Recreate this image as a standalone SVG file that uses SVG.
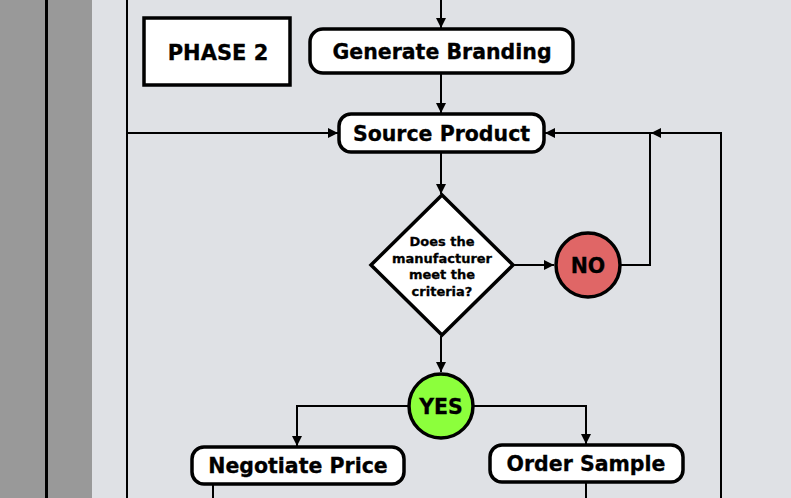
<svg xmlns="http://www.w3.org/2000/svg" width="791" height="498" viewBox="0 0 791 498">
<defs>
<marker id="arr" viewBox="0 0 10 10" refX="10" refY="5" markerWidth="10" markerHeight="10" markerUnits="userSpaceOnUse" orient="auto">
<path d="M0,0 L10,5 L0,10 z" fill="#000"/>
</marker>
<style>
.box{fill:#fff;stroke:#000;stroke-width:3.5}
.t{font-family:"DejaVu Sans",Verdana,sans-serif;font-weight:bold;fill:#000;text-anchor:middle;stroke:#000;stroke-width:0.3}
.big{font-size:20.5px}
.small{font-size:13px}
.c{fill:none;stroke:#000;stroke-width:2}
</style>
</defs>
<rect x="0" y="0" width="791" height="498" fill="#dfe1e5"/>
<rect x="0" y="0" width="92" height="498" fill="#999999"/>
<rect x="45" y="0" width="3" height="498" fill="#000"/>
<g id="connectors">
<line class="c" x1="127" y1="0" x2="127" y2="498"/>
<line class="c" x1="441" y1="0" x2="441" y2="28" marker-end="url(#arr)"/>
<line class="c" x1="441" y1="74" x2="441" y2="113" marker-end="url(#arr)"/>
<line class="c" x1="127" y1="133" x2="338" y2="133" marker-end="url(#arr)"/>
<line class="c" x1="441" y1="153" x2="441" y2="194" marker-end="url(#arr)"/>
<line class="c" x1="513" y1="265" x2="554" y2="265" marker-end="url(#arr)"/>
<polyline class="c" points="621,265 650,265 650,133 545,133" marker-end="url(#arr)"/>
<polyline class="c" points="721,498 721,133 651,133" marker-end="url(#arr)"/>
<line class="c" x1="441" y1="336" x2="441" y2="372" marker-end="url(#arr)"/>
<polyline class="c" points="408,406 297,406 297,446" marker-end="url(#arr)"/>
<polyline class="c" points="474,406 586,406 586,444" marker-end="url(#arr)"/>
<line class="c" x1="213" y1="485" x2="213" y2="498"/>
<line class="c" x1="586" y1="483" x2="586" y2="498"/>
</g>
<g id="phase2">
<rect x="144" y="18" width="146" height="67" fill="#fff" stroke="#000" stroke-width="3.5"/>
<text class="t" x="218" y="60" font-size="21px">PHASE 2</text>
</g>
<g id="generate-branding">
<rect class="box" x="310" y="29" width="263" height="44" rx="13"/>
<text class="t big" x="442" y="58.5">Generate Branding</text>
</g>
<g id="source-product">
<rect class="box" x="339" y="114" width="205" height="38" rx="12"/>
<text class="t big" x="441.5" y="140.5">Source Product</text>
</g>
<g id="decision">
<polygon class="box" points="442,195 513,265 442,335 371,265"/>
<text class="t small" x="442" y="246">Does the</text>
<text class="t small" x="442" y="262.5">manufacturer</text>
<text class="t small" x="442" y="279">meet the</text>
<text class="t small" x="442" y="295.5">criteria?</text>
</g>
<g id="no">
<circle cx="588" cy="265" r="32" fill="#e06666" stroke="#000" stroke-width="3.5"/>
<text class="t big" x="588" y="273">NO</text>
</g>
<g id="yes">
<circle cx="441" cy="406" r="32" fill="#8cff3c" stroke="#000" stroke-width="3.5"/>
<text class="t big" x="441" y="414">YES</text>
</g>
<g id="negotiate-price">
<rect class="box" x="192" y="447" width="212" height="37" rx="12"/>
<text class="t big" x="298" y="472.5">Negotiate Price</text>
</g>
<g id="order-sample">
<rect class="box" x="490" y="445" width="193" height="37" rx="12"/>
<text class="t big" x="586" y="470.5">Order Sample</text>
</g>
</svg>
